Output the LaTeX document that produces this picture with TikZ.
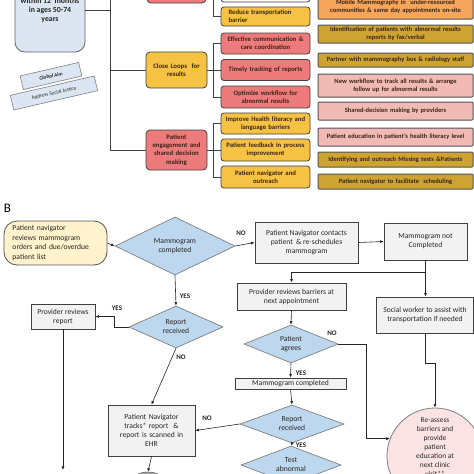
\documentclass[tikz,border=0pt]{standalone}
\usepackage{fontspec}
\setmainfont{Carlito}
\usetikzlibrary{shapes.geometric,arrows.meta}
\definecolor{aimblue}{HTML}{DCE6F2}
\definecolor{ayellow}{HTML}{F6C244}
\definecolor{ared}{HTML}{EE7B7B}
\definecolor{aorange}{HTML}{F6A65A}
\definecolor{agold}{HTML}{CDA332}
\definecolor{apink}{HTML}{F2BAB5}
\definecolor{bline}{HTML}{404040}
\definecolor{dblue}{HTML}{BDD7EE}
\definecolor{bgray}{HTML}{F2F2F2}
\definecolor{byellow}{HTML}{FFF2CC}
\definecolor{bpink}{HTML}{FBE3E3}
\definecolor{atext}{HTML}{3A2418}
\definecolor{btext}{HTML}{262626}
\tikzset{
  aline/.style={draw=bline, line width=0.8pt},
  lvltwo/.style={draw=bline, line width=0.8pt, rounded corners=4pt, align=center, inner sep=1pt,
    font=\bfseries\fontsize{6.8}{8.2}\selectfont, text=atext},
  lvlthree/.style={draw=bline, line width=0.8pt, rounded corners=3pt, align=center, inner sep=1pt,
    text width=86pt, minimum width=89pt, font=\bfseries\fontsize{6.7}{8.2}\selectfont, text=atext},
  lvlfour/.style={draw=bline!90, line width=1pt, rounded corners=1pt, align=center, inner sep=1pt,
    text width=150pt, minimum width=155pt, font=\bfseries\fontsize{6.5}{8}\selectfont, text=atext},
  aimbox/.style={draw=bline!80, line width=0.8pt, rounded corners=10pt, fill=aimblue, align=center,
    font=\bfseries\fontsize{7.8}{8.8}\selectfont, text=btext},
  tilted/.style={draw=gray, line width=0.6pt, fill=aimblue, rotate=13, inner sep=1pt,
    font=\fontsize{5.2}{6}\selectfont, text=btext},
  pbox/.style={draw=bline, line width=0.8pt, fill=bgray, align=center, inner sep=1pt,
    font=\fontsize{7.6}{9}\selectfont, text=btext},
  dia/.style={diamond, aspect=2, draw=gray, line width=0.7pt, fill=dblue, align=center, inner sep=0pt,
    font=\fontsize{7.6}{9}\selectfont, text=btext},
  arr/.style={-{Latex[length=3.6pt,width=3pt]}, line width=0.6pt, draw=btext},
  lab/.style={font=\bfseries\fontsize{7}{8}\selectfont, text=btext, inner sep=0pt}
}
\begin{document}
\begin{tikzpicture}[x=1pt,y=-1pt]
\useasboundingbox (0,0) rectangle (474,474);
\clip (0,0) rectangle (474,474);
\fill[white] (0,0) rectangle (474,474);

% ---------------- Part A ----------------
\node[aimbox, minimum width=70, minimum height=83] (aim) at (50,10.5) {within 12~~months\\in ages 50-74\\years};
\node[tilted, minimum width=60, minimum height=14, font=\bfseries\itshape\fontsize{5.2}{6}\selectfont] (gaim) at (51,76) {Global Aim};
\node[tilted, minimum width=86, minimum height=15] (asj) at (54,93) {Address Social Justice};

\node[lvltwo, fill=ared, minimum width=59, minimum height=33] (redtop) at (176.5,-13.5) {};
\node[lvltwo, fill=ayellow, minimum width=61, minimum height=36, text width=56pt] (close) at (176.5,70) {Close Loops~~for\\results};
\node[lvltwo, fill=ared, minimum width=61, minimum height=40, text width=56pt] (engage) at (176.5,150) {Patient\\engagement and\\shared decision\\making};

\coordinate (trunkTop) at (110,-5);
\coordinate (trunkBot) at (110,150);
\draw[aline] (trunkTop) -- (trunkBot);
\draw[aline] (aim.east) -- (aim.east -| trunkTop);
\draw[aline] (close.west -| trunkTop) -- (close.west);
\draw[aline] (engage.west -| trunkTop) -- (engage.west);

\node[lvlthree, fill=white, minimum height=22] (whitetop) at (265.5,-9) {};
\node[lvlthree, fill=ayellow, minimum height=19, align=left, text width=74pt] (reduce) at (265.5,16.5) {Reduce transportation\\barrier};
\node[lvlthree, fill=ared, minimum height=21] (effective) at (265.5,43.5) {Effective communication \&\\care coordination};
\node[lvlthree, fill=ared, minimum height=21] (timely) at (265.5,70) {Timely tracking of reports};
\node[lvlthree, fill=ared, minimum height=22] (optimize) at (265.5,97) {Optimize workflow for\\abnormal results};
\node[lvlthree, fill=ayellow, minimum height=21] (improve) at (265.5,123.5) {Improve Health literacy and\\language barriers};
\node[lvlthree, fill=ayellow, minimum height=22] (feedback) at (265.5,150) {Patient feedback in process\\improvement};
\node[lvlthree, fill=ayellow, minimum height=22] (navig) at (265.5,177) {Patient navigator and\\outreach};

\coordinate (bxTop) at (213,-5);
\coordinate (bx) at (213,16.5);
\draw[aline] (bxTop) -- (bx) -- (reduce.west);
\draw[aline] (close.east) -- (timely.west);
\draw[aline] (effective.west -| bx) -- (effective.west);
\draw[aline] (effective.west -| bx) -- (optimize.west -| bx) -- (optimize.west);
\draw[aline] (engage.east) -- (feedback.west);
\draw[aline] (improve.west -| bx) -- (improve.west);
\draw[aline] (improve.west -| bx) -- (navig.west -| bx) -- (navig.west);

\node[lvlfour, fill=aorange, minimum height=24] (mobile) at (395.5,7) {Mobile Mammography in~~under-resourced\\communities \& same day appointments on-site};
\node[lvlfour, fill=agold, minimum height=18] (ident) at (395.5,34) {Identification of patients with abnormal results\\reports by fax/verbal};
\node[lvlfour, fill=agold, minimum height=14] (partner) at (395.5,60) {Partner with mammography bus \& radiology staff};
\node[lvlfour, fill=apink, minimum height=23] (newwf) at (395.5,85.5) {New workflow to track all results \& arrange\\follow up for abnormal results};
\node[lvlfour, fill=apink, minimum height=18] (shared) at (395.5,111) {Shared-decision making by providers};
\node[lvlfour, fill=apink, minimum height=18] (educ) at (395.5,137) {Patient education in patient's health literacy level};
\node[lvlfour, fill=agold, minimum height=15] (identif) at (395.5,159.5) {Identifying and outreach Missing tests \&Patients};
\node[lvlfour, fill=agold, minimum height=15] (pnsched) at (395.5,181.5) {Patient navigator to facilitate~~scheduling};

% ---------------- Part B ----------------
\node[font=\fontsize{13}{13}\selectfont, text=black, inner sep=0pt] (blabel) at (7.5,208.5) {B};

\node[draw=bline!90, line width=0.8pt, fill=byellow, rounded corners=13pt, minimum width=103, minimum height=44,
  align=left, text width=86pt, inner sep=1pt, font=\fontsize{7.6}{9.4}\selectfont, text=btext] (start) at (55.5,243)
  {Patient navigator\\reviews mammogram\\orders and due/overdue\\patient list};
\node[dia, minimum width=120, minimum height=58] (d1) at (175,246) {Mammogram\\completed};
\node[pbox, minimum width=103, minimum height=41] (contacts) at (306.5,242.5) {Patient Navigator contacts\\patient~~\& re-schedules\\mammogram};
\node[pbox, minimum width=83, minimum height=37] (notcomp) at (425.5,241.5) {Mammogram not\\Completed};
\node[pbox, minimum width=109, minimum height=27] (barriers) at (291.5,296.5) {Provider reviews barriers at\\next appointment};
\node[pbox, minimum width=97, minimum height=36] (social) at (425,315) {Social worker to assist with\\transportation if needed};
\node[pbox, minimum width=64, minimum height=25] (provrep) at (63,316.5) {Provider reviews\\report};
\node[dia, minimum width=94, minimum height=42] (d2) at (176,327) {Report\\received};
\node[dia, minimum width=94, minimum height=38] (d3) at (291,344) {Patient\\agrees};
\node[pbox, minimum width=111, minimum height=11] (mcomp) at (290.5,383.5) {Mammogram completed};
\node[dia, minimum width=104, minimum height=38] (d4) at (292,424) {Report\\received};
\node[dia, minimum width=100, minimum height=38] (d5) at (291,465) {Test\\abnormal};
\node[pbox, minimum width=87, minimum height=51, text width=80pt] (tracks) at (151.5,430.5) {Patient Navigator\\tracks* report~~\&\\report is scanned in\\EHR};
\node[circle, draw=gray, line width=0.8pt, fill=bpink, minimum size=96, align=center, inner sep=0pt,
  font=\fontsize{7.4}{9}\selectfont, text=btext] (reassess) at (435,456)
  {Re-assess\\barriers and\\provide\\patient\\education at\\next clinic\\visit**\\[9pt]\mbox{}};
\node[ellipse, draw=bline, fill=gray!70, minimum width=32, minimum height=18] (bot) at (148,481) {};
\coordinate (pbot) at (63,470);

\draw[arr] (start.east) -- (d1.west);
\draw[arr] (d1.east) -- (contacts.west);
\node[lab] (no1) at (241,233) {NO};
\draw[arr] (contacts.east) -- (notcomp.west);
\draw[arr] (notcomp.south) -- ++(0,12) -| (barriers.north);
\draw[arr] (notcomp.south) -- (notcomp.south |- social.north);
\draw[arr] (barriers.south) -- (d3.north);
\draw[arr] (d3.east) -- ++(28,0) |- (reassess.159);
\node[lab] (no2) at (332,333) {NO};
\draw[arr] (d3.south) -- (mcomp.north);
\node[lab] (yes1) at (301,373) {YES};
\draw[arr] (mcomp.south) -- (d4.north);
\draw[arr] (d4.west) -- (tracks.east);
\node[lab] (no3) at (207,418) {NO};
\draw[arr] (d4.south) -- (d5.north);
\node[lab] (yes2) at (301,445) {YES};
\draw[arr] (d1.south) -- (d2.north);
\node[lab] (yes3) at (185,296) {YES};
\draw[arr] (d2.west) -- ++(-14,0) |- (provrep.east);
\node[lab] (yes4) at (117,308) {YES};
\draw[arr] (d2.south) -- (tracks.north);
\node[lab] (no4) at (181,357) {NO};
\draw[arr] (provrep.south) -- (pbot);
\draw[arr] (tracks.south) -- (bot.north);
\draw[arr] (social.south) -- ++(0,30) -| (reassess.north);
\end{tikzpicture}
\end{document}
